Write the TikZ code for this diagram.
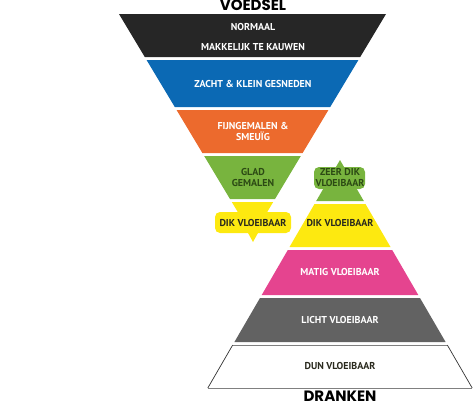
\documentclass[tikz,border=0pt]{standalone}
\usepackage{fontspec}
\setmainfont{PT Sans}
\newfontfamily\headfont{Poppins}
\definecolor{cblack}{HTML}{262626}
\definecolor{cblue}{HTML}{0B69B4}
\definecolor{corange}{HTML}{EC6A2D}
\definecolor{cgreen}{HTML}{78B43E}
\definecolor{cyellow}{HTML}{FDE910}
\definecolor{cpink}{HTML}{E5448F}
\definecolor{cgray}{HTML}{626262}
\definecolor{dgreen}{HTML}{2C4A14}
\definecolor{dtext}{HTML}{2A2A1E}
\tikzset{
  lbl/.style={font=\fontsize{10}{11}\selectfont\bfseries, align=center, inner sep=0pt},
  wlbl/.style={lbl, text=white},
  head/.style={font=\headfont\fontsize{15}{15}\selectfont\bfseries, anchor=base, inner sep=0pt},
  callout/.style={rounded corners=5pt},
}
\begin{document}
\begin{tikzpicture}[x=1pt,y=-1pt]
\useasboundingbox (0,0) rectangle (474,405);
% ---- inverted pyramid (VOEDSEL)
\fill[cblack] (119,14) -- (386,14) -- (360.2,57) -- (144.8,57) -- cycle;
\fill[cblue] (146.6,60) -- (358.4,60) -- (330.2,107) -- (174.8,107) -- cycle;
\fill[corange] (176.6,110) -- (328.4,110) -- (302.6,153) -- (202.4,153) -- cycle;
\fill[cgreen] (204.2,156) -- (300.8,156) -- (275,199) -- (230,199) -- cycle;
\fill[cyellow] (231.8,202) -- (273.2,202) -- (252.5,236.5) -- cycle;
\fill[cyellow, callout] (215,212) rectangle (291,233);
\fill[cyellow] (247.5,232) -- (258.5,232) -- (253,242) -- cycle;
% ---- upright pyramid (DRANKEN)
\fill[cgreen] (340,160) -- (363.8,201) -- (316.2,201) -- cycle;
\fill[cgreen, callout] (314,167) rectangle (365,189);
\fill[cyellow] (314.5,204) -- (365.5,204) -- (390.5,247) -- (289.5,247) -- cycle;
\fill[cpink] (287.8,250) -- (392.2,250) -- (418.3,295) -- (261.7,295) -- cycle;
\fill[cgray] (260,298) -- (420,298) -- (445.6,342) -- (234.4,342) -- cycle;
\fill[white] (232.7,345) -- (447.3,345) -- (472.2,388) -- (207.8,388) -- cycle;
\draw[black!80, line width=0.7pt] (232.7,345) -- (207.8,388) (447.3,345) -- (472.2,388);
\draw[gray, line width=0.7pt] (232.7,345) -- (447.3,345) (207.8,388) -- (472.2,388);
% ---- labels
\node[head] (voedsel) at (253,10) {VOEDSEL};
\node[wlbl] (normaal) at (253,27) {NORMAAL};
\node[wlbl] (makkelijk) at (253,47) {MAKKELIJK TE KAUWEN};
\node[wlbl] (zacht) at (253,84) {ZACHT \& KLEIN GESNEDEN};
\node[wlbl] (fijn) at (253,131) {FIJNGEMALEN \&\\SMEUÏG};
\node[lbl, text=dgreen] (glad) at (253,177) {GLAD\\GEMALEN};
\node[lbl, text=dtext] (dikl) at (253,222.5) {DIK VLOEIBAAR};
\node[lbl, text=dgreen] (zeer) at (340,178) {ZEER DIK\\VLOEIBAAR};
\node[lbl, text=dtext] (dikr) at (340,222.5) {DIK VLOEIBAAR};
\node[wlbl] (matig) at (340,272) {MATIG VLOEIBAAR};
\node[wlbl] (licht) at (340,320) {LICHT VLOEIBAAR};
\node[lbl, text=dtext] (dun) at (340,366) {DUN VLOEIBAAR};
\node[head] (dranken) at (340,401) {DRANKEN};
\end{tikzpicture}
\end{document}
